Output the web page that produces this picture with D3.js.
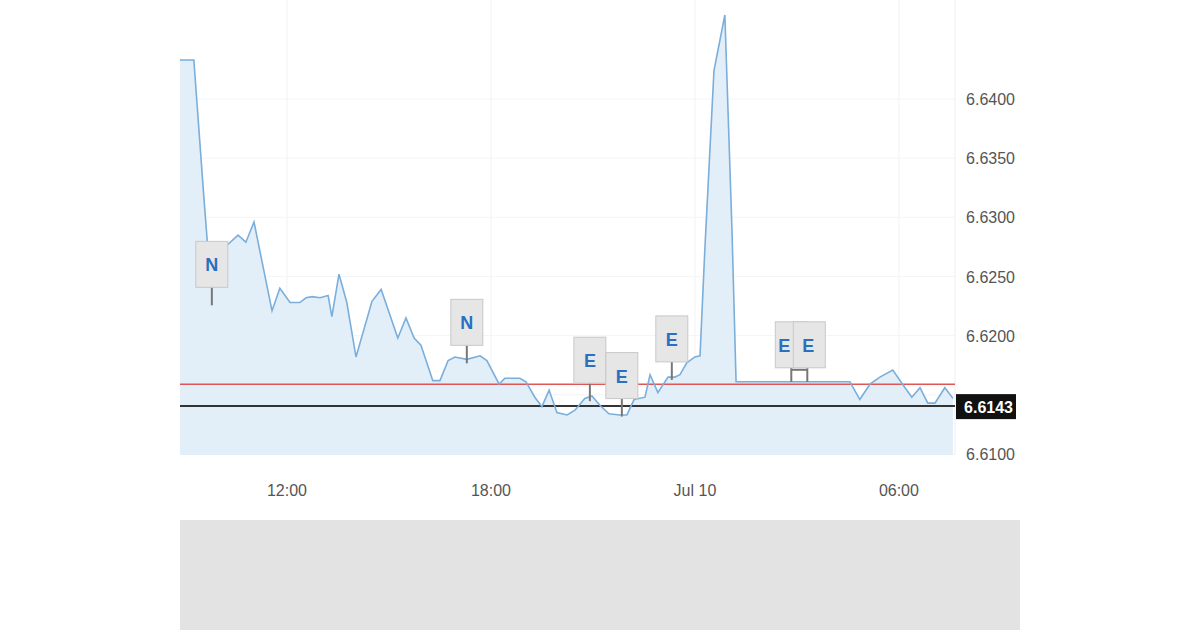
<!DOCTYPE html>
<html><head><meta charset="utf-8">
<script src="https://cdn.jsdelivr.net/npm/d3@7"></script>
<style>body{margin:0;background:#fff}svg{display:block;font-family:Arial,"Liberation Sans",sans-serif}</style>
</head><body><svg id="c" width="1200" height="630"></svg>
<script>
const times=[8.85,9.26,9.56,9.66,10.26,10.56,10.79,11.03,11.56,11.79,12.09,12.38,12.56,12.74,12.97,13.21,13.32,13.53,13.76,14.03,14.50,14.77,15.26,15.50,15.74,15.94,16.29,16.50,16.74,16.94,17.29,17.68,17.88,18.24,18.41,18.62,18.85,19.03,19.29,19.50,19.71,19.94,20.24,20.47,20.76,20.97,21.21,21.47,21.79,22.00,22.21,22.53,22.68,22.91,23.21,23.41,23.56,23.76,24.00,24.15,24.29,24.56,24.88,25.09,25.21,28.56,28.85,29.15,29.44,29.82,30.18,30.38,30.62,30.85,31.06,31.35,31.59];
const values=[6.6433,6.6433,6.6315,6.6278,6.6277,6.6285,6.6279,6.6296,6.6221,6.6240,6.6228,6.6228,6.6232,6.6233,6.6232,6.6234,6.6216,6.6252,6.6228,6.6182,6.6229,6.6239,6.6198,6.6215,6.6198,6.6192,6.6162,6.6162,6.6179,6.6182,6.6180,6.6183,6.6179,6.6159,6.6164,6.6164,6.6164,6.6161,6.6148,6.6140,6.6154,6.6135,6.6133,6.6137,6.6147,6.6149,6.6141,6.6134,6.6133,6.6133,6.6146,6.6148,6.6167,6.6152,6.6165,6.6165,6.6167,6.6177,6.6182,6.6183,6.6272,6.6424,6.6471,6.6289,6.6161,6.6161,6.6146,6.6159,6.6165,6.6171,6.6156,6.6148,6.6156,6.6143,6.6143,6.6156,6.6147];
const yTicks=[6.6100,6.6150,6.6200,6.6250,6.6300,6.6350,6.6400];
const xTicks=[12,18,24,30];
const xTickLabels=["12:00","18:00","Jul 10","06:00"];
const redLevel=6.6159, lastPrice=6.6143;
const flagTimes=[9.79,17.29,20.91,21.85,23.32,27.07];
const flagValues=[6.6229,6.6180,6.6148,6.6135,6.6166,6.6161];
const flagLetters=["N","N","E","E","E","EE"];

const svg=d3.select("#c");
const L=180,R=955,T=0,B=455;
svg.append("rect").attr("x",180).attr("y",520).attr("width",840).attr("height",110).attr("fill","#e3e3e3");
const x=d3.scaleLinear().domain([8.853,31.65]).range([L,R]);
const y=d3.scaleLinear().domain([6.61,6.64]).range([454,99]);
const g=svg.append("g");
g.selectAll(".vg").data(xTicks).join("line").attr("x1",d=>x(d)).attr("x2",d=>x(d)).attr("y1",T).attr("y2",B).attr("stroke","#f0f2f5");
g.selectAll(".hg").data(yTicks).join("line").attr("x1",L).attr("x2",R).attr("y1",d=>y(d)).attr("y2",d=>y(d)).attr("stroke","#f3f4f6");
g.append("line").attr("x1",R).attr("x2",R).attr("y1",T).attr("y2",B).attr("stroke","#eceef1");
const pts=times.map((t,i)=>[t,values[i]]);
g.append("path").datum(pts).attr("fill","#e3eff8").attr("d",d3.area().x(d=>x(d[0])).y0(B).y1(d=>y(d[1])));
g.append("line").attr("x1",L).attr("x2",R).attr("y1",y(redLevel)).attr("y2",y(redLevel)).attr("stroke","#e05555").attr("stroke-width",1.5);
g.append("line").attr("x1",L).attr("x2",R).attr("y1",y(lastPrice)+3).attr("y2",y(lastPrice)+3).attr("stroke","#333").attr("stroke-width",2);
g.append("path").datum(pts).attr("fill","none").attr("stroke","#7aaedb").attr("stroke-width",1.6).attr("d",d3.line().x(d=>x(d[0])).y(d=>y(d[1])));
function box(fg,cx,bb,l,tx){
  fg.append("rect").attr("x",cx-16).attr("y",bb-46).attr("width",32).attr("height",46).attr("fill","#e6e6e6").attr("stroke","#c8c8c8");
  fg.append("text").attr("x",tx).attr("y",bb-16).attr("text-anchor","middle").attr("font-size",18).attr("font-weight","bold").attr("fill","#2a6fc0").text(l);
}
flagTimes.forEach((t,i)=>{
  const cx=x(t), py=y(flagValues[i]), bb=py-14, letters=flagLetters[i];
  const fg=g.append("g");
  if(letters.length===1){
    fg.append("line").attr("x1",cx).attr("x2",cx).attr("y1",bb).attr("y2",py+4).attr("stroke","#777").attr("stroke-width",2);
    box(fg,cx,bb,letters,cx);
  } else {
    [-8,8].forEach(o=>fg.append("line").attr("x1",cx+o).attr("x2",cx+o).attr("y1",bb).attr("y2",py).attr("stroke","#777").attr("stroke-width",2));
    fg.append("line").attr("x1",cx-8).attr("x2",cx+8).attr("y1",bb+2).attr("y2",bb+2).attr("stroke","#777").attr("stroke-width",2);
    box(fg,cx-8,bb,letters[0],cx-15);
    box(fg,cx+10,bb,letters[1],cx+9);
  }
});
g.selectAll(".xt").data(xTicks).join("text").attr("x",d=>x(d)).attr("y",496).attr("text-anchor","middle").attr("font-size",16).attr("fill","#555").text((d,i)=>xTickLabels[i]);
g.selectAll(".yt").data(yTicks.filter(v=>Math.abs(v-6.615)>1e-6)).join("text").attr("x",1015).attr("y",d=>y(d)+6).attr("text-anchor","end").attr("font-size",16).attr("fill","#555").text(d=>d.toFixed(4));
g.append("rect").attr("x",956).attr("y",y(lastPrice)-9).attr("width",60).attr("height",25).attr("fill","#111");
g.append("text").attr("x",1013).attr("y",y(lastPrice)+10).attr("text-anchor","end").attr("font-size",16).attr("font-weight","bold").attr("fill","#fff").text(lastPrice.toFixed(4));
</script></body></html>
